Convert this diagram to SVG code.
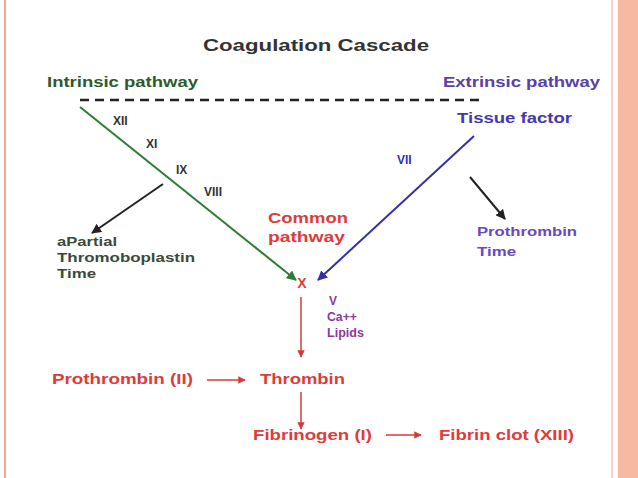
<svg xmlns="http://www.w3.org/2000/svg" width="638" height="478" viewBox="0 0 638 478">
<style>
text{font-family:"Liberation Sans",Arial,sans-serif;font-weight:bold}
.red{fill:#dd3c3c;font-size:14px}
.sm{font-size:12px}
</style>
<defs>
<marker id="ab" viewBox="0 0 10 10" refX="9" refY="5" markerWidth="5" markerHeight="5" orient="auto"><path d="M0,0L10,5L0,10z" fill="#222"/></marker>
<marker id="ag" viewBox="0 0 10 10" refX="9" refY="5" markerWidth="5" markerHeight="5" orient="auto"><path d="M0,0L10,5L0,10z" fill="#2f7a35"/></marker>
<marker id="au" viewBox="0 0 10 10" refX="9" refY="5" markerWidth="5" markerHeight="5" orient="auto"><path d="M0,0L10,5L0,10z" fill="#3530a8"/></marker>
<marker id="ar" viewBox="0 0 10 10" refX="9" refY="5" markerWidth="5" markerHeight="5" orient="auto"><path d="M0,0L10,5L0,10z" fill="#d83a3a"/></marker>
</defs>
<rect width="638" height="478" fill="#fff"/>
<line x1="5" y1="0" x2="5" y2="478" stroke="#f0a890" stroke-width="2"/>
<line x1="612" y1="0" x2="612" y2="478" stroke="#f0a890" stroke-width="1"/>
<rect x="618" y="0" width="20" height="478" fill="#f7b9a2"/>
<g id="title"><text x="203" y="51" font-size="17" fill="#333" textLength="226" lengthAdjust="spacingAndGlyphs">Coagulation Cascade</text></g>
<g id="intrinsic"><text x="47" y="87" font-size="14" fill="#2e5a2e" textLength="151" lengthAdjust="spacingAndGlyphs">Intrinsic pathway</text></g>
<g id="extrinsic"><text x="443" y="87" font-size="14" fill="#5a40a8" textLength="157" lengthAdjust="spacingAndGlyphs">Extrinsic pathway</text></g>
<g id="tissue"><text x="457" y="123" font-size="14" fill="#4537b0" textLength="115" lengthAdjust="spacingAndGlyphs">Tissue factor</text></g>
<g id="factors" fill="#333">
<text x="113" y="125" class="sm">XII</text>
<text x="146" y="148" class="sm">XI</text>
<text x="176" y="174" class="sm">IX</text>
<text x="204" y="196" class="sm">VIII</text>
<text x="397" y="164" class="sm" fill="#3530a8">VII</text>
</g>
<g id="aptt" fill="#3a4a3a"><text x="57" y="246" class="sm" textLength="60" lengthAdjust="spacingAndGlyphs">aPartial</text><text x="57" y="262" class="sm" textLength="138" lengthAdjust="spacingAndGlyphs">Thromoboplastin</text><text x="57" y="278" class="sm" textLength="39" lengthAdjust="spacingAndGlyphs">Time</text></g>
<g id="pt" fill="#6a48c0"><text x="477" y="236" class="sm" textLength="100" lengthAdjust="spacingAndGlyphs">Prothrombin</text><text x="477" y="256" class="sm" textLength="39" lengthAdjust="spacingAndGlyphs">Time</text></g>
<g id="common"><text x="268" y="223" class="red" textLength="80" lengthAdjust="spacingAndGlyphs">Common</text><text x="268" y="242" class="red" textLength="77" lengthAdjust="spacingAndGlyphs">pathway</text></g>
<g id="X"><text x="302" y="288" text-anchor="middle" class="red">X</text></g>
<g id="cofactors" fill="#8a3aa0"><text x="329" y="305" class="sm">V</text><text x="327" y="321" class="sm" textLength="30" lengthAdjust="spacingAndGlyphs">Ca++</text><text x="327" y="337" class="sm" textLength="37" lengthAdjust="spacingAndGlyphs">Lipids</text></g>
<g id="prothrombin"><text x="52" y="384" class="red" textLength="141" lengthAdjust="spacingAndGlyphs">Prothrombin (II)</text></g>
<g id="thrombin"><text x="260" y="384" class="red" textLength="85" lengthAdjust="spacingAndGlyphs">Thrombin</text></g>
<g id="fibrinogen"><text x="253" y="440" class="red" textLength="119" lengthAdjust="spacingAndGlyphs">Fibrinogen (I)</text></g>
<g id="fibrin"><text x="439" y="440" class="red" textLength="135" lengthAdjust="spacingAndGlyphs">Fibrin clot (XIII)</text></g>
<g id="connectors" fill="none">
<line x1="80" y1="100" x2="484" y2="100" stroke="#222" stroke-width="2.5" stroke-dasharray="9,6"/>
<line x1="80" y1="107" x2="296" y2="280" stroke="#2f7a35" stroke-width="2" marker-end="url(#ag)"/>
<line x1="474" y1="136" x2="318" y2="280" stroke="#3530a8" stroke-width="2" marker-end="url(#au)"/>
<line x1="163" y1="184" x2="92" y2="233" stroke="#222" stroke-width="2" marker-end="url(#ab)"/>
<line x1="470" y1="177" x2="505" y2="219" stroke="#222" stroke-width="2" marker-end="url(#ab)"/>
<line x1="301" y1="297" x2="301" y2="357" stroke="#d83a3a" stroke-width="1.5" marker-end="url(#ar)"/>
<line x1="207" y1="380" x2="245" y2="380" stroke="#d83a3a" stroke-width="1.5" marker-end="url(#ar)"/>
<line x1="301" y1="392" x2="301" y2="429" stroke="#d83a3a" stroke-width="1.5" marker-end="url(#ar)"/>
<line x1="386" y1="435" x2="421" y2="435" stroke="#d83a3a" stroke-width="1.5" marker-end="url(#ar)"/>
</g>
</svg>
